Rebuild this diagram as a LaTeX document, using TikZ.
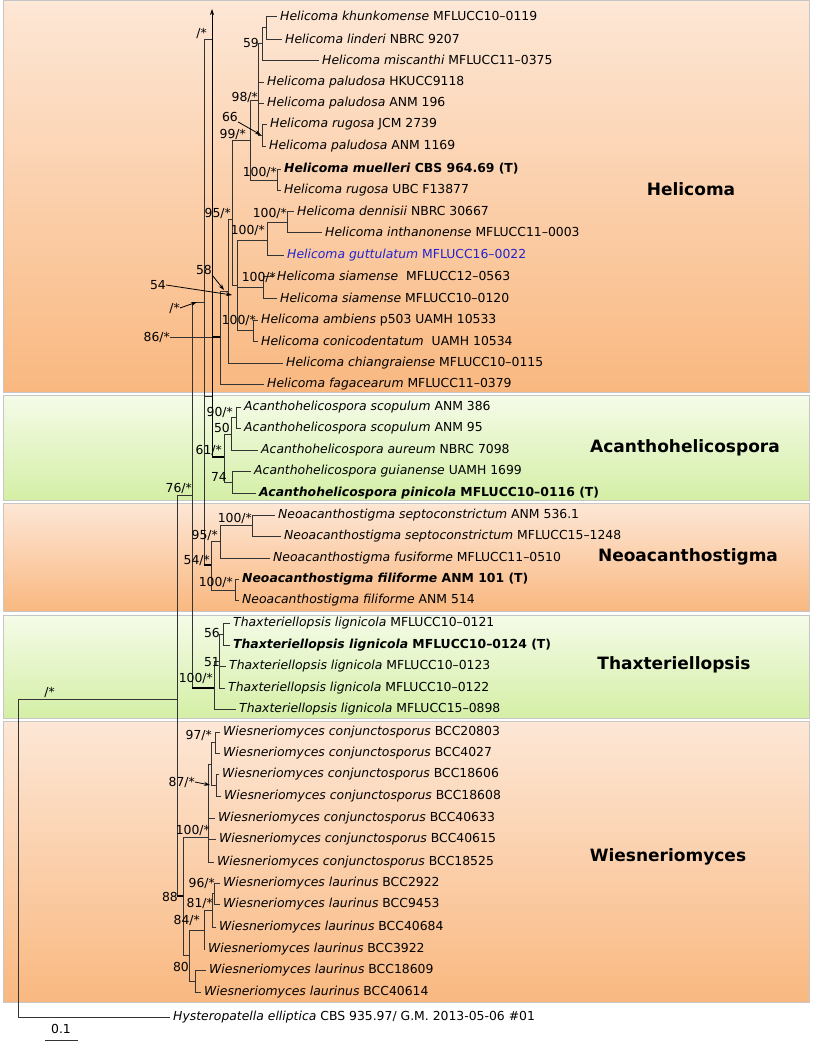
\documentclass[tikz,border=0pt]{standalone}
\usepackage{fontspec}
\setmainfont{DejaVu Sans}
\usetikzlibrary{arrows.meta}
\definecolor{orA}{RGB}{253,231,214}
\definecolor{orB}{RGB}{249,184,128}
\definecolor{grA}{RGB}{245,251,232}
\definecolor{grB}{RGB}{212,239,166}
\definecolor{gut}{RGB}{35,35,205}
\tikzset{
 tx/.style={anchor=west, inner xsep=3pt, inner ysep=0pt, font=\fontsize{12.4}{14}\selectfont},
 sv/.style={anchor=east, inner sep=0pt, font=\fontsize{12.4}{14}\selectfont},
 br/.style={line width=0.7pt, draw=black!80},
 thk/.style={line width=2.4pt, draw=black},
 ptr/.style={line width=0.8pt, draw=black, -{Stealth[length=6pt,width=4pt]}},
 clade/.style={font=\fontsize{17}{19}\bfseries\selectfont},
 boxo/.style={draw=gray!45, line width=0.7pt, top color=orA, bottom color=orB},
 boxg/.style={draw=gray!45, line width=0.7pt, top color=grA, bottom color=grB}
}
\newcommand\hbr[2]{\draw[br] (#1 |- #2) -- (#2);}
\newcommand\vbr[3]{\draw[br] (#1 |- #2) -- (#1 |- #3);}
\begin{document}
\begin{tikzpicture}[x=1pt,y=-1pt]
\useasboundingbox (0,0) rectangle (813,1044);
% clade boxes
\path[boxo] (3,0) rectangle (809,392);
\path[boxg] (3,395) rectangle (809,500);
\path[boxo] (3,503) rectangle (809,611);
\path[boxg] (3,615) rectangle (809,718);
\path[boxo] (3,721) rectangle (809,1002);
\node[clade] (cH) at (691,189) {Helicoma};
\node[clade] (cA) at (685,448) {Acanthohelicospora};
\node[clade] (cN) at (688,557) {Neoacanthostigma};
\node[clade] (cT) at (674,665) {Thaxteriellopsis};
\node[clade] (cW) at (668,857) {Wiesneriomyces};
% taxa
\node[tx] (t1) at (277,16) {\textit{Helicoma khunkomense} MFLUCC10–0119};
\node[tx] (t2) at (282,39) {\textit{Helicoma linderi} NBRC 9207};
\node[tx] (t3) at (319,60) {\textit{Helicoma miscanthi} MFLUCC11–0375};
\node[tx] (t4) at (264,82) {\textit{Helicoma paludosa} HKUCC9118};
\node[tx] (t5) at (264,103) {\textit{Helicoma paludosa} ANM 196};
\node[tx] (t6) at (267,124) {\textit{Helicoma rugosa} JCM 2739};
\node[tx] (t7) at (266,146) {\textit{Helicoma paludosa} ANM 1169};
\node[tx] (t8) at (281,169) {\textbf{\textit{Helicoma muelleri} CBS 964.69 (T)}};
\node[tx] (t9) at (281,190) {\textit{Helicoma rugosa} UBC F13877};
\node[tx] (t10) at (294,211) {\textit{Helicoma dennisii} NBRC 30667};
\node[tx] (t11) at (322,232) {\textit{Helicoma inthanonense} MFLUCC11–0003};
\node[tx,text=gut] (t12) at (284,255) {\textit{Helicoma guttulatum} MFLUCC16–0022};
\node[tx] (t13) at (274,276) {\textit{Helicoma siamense}\ \ MFLUCC12–0563};
\node[tx] (t14) at (277,298) {\textit{Helicoma siamense} MFLUCC10–0120};
\node[tx] (t15) at (258,320) {\textit{Helicoma ambiens} p503 UAMH 10533};
\node[tx] (t16) at (258,341) {\textit{Helicoma conicodentatum}\ \ UAMH 10534};
\node[tx] (t17) at (283,363) {\textit{Helicoma chiangraiense} MFLUCC10–0115};
\node[tx] (t18) at (264,384) {\textit{Helicoma fagacearum} MFLUCC11–0379};
\node[tx] (t19) at (241,407) {\textit{Acanthohelicospora scopulum} ANM 386};
\node[tx] (t20) at (241,428) {\textit{Acanthohelicospora scopulum} ANM 95};
\node[tx] (t21) at (258,450) {\textit{Acanthohelicospora aureum} NBRC 7098};
\node[tx] (t22) at (251,471) {\textit{Acanthohelicospora guianense} UAMH 1699};
\node[tx] (t23) at (256,493) {\textbf{\textit{Acanthohelicospora pinicola} MFLUCC10–0116 (T)}};
\node[tx] (t24) at (275,515) {\textit{Neoacanthostigma septoconstrictum} ANM 536.1};
\node[tx] (t25) at (281,536) {\textit{Neoacanthostigma septoconstrictum} MFLUCC15–1248};
\node[tx] (t26) at (270,558) {\textit{Neoacanthostigma fusiforme} MFLUCC11–0510};
\node[tx] (t27) at (239,579) {\textbf{\textit{Neoacanthostigma filiforme} ANM 101 (T)}};
\node[tx] (t28) at (239,600) {\textit{Neoacanthostigma filiforme} ANM 514};
\node[tx] (t29) at (230,623) {\textit{Thaxteriellopsis lignicola} MFLUCC10–0121};
\node[tx] (t30) at (230,645) {\textbf{\textit{Thaxteriellopsis lignicola} MFLUCC10–0124 (T)}};
\node[tx] (t31) at (226,666) {\textit{Thaxteriellopsis lignicola} MFLUCC10–0123};
\node[tx] (t32) at (225,688) {\textit{Thaxteriellopsis lignicola} MFLUCC10–0122};
\node[tx] (t33) at (236,709) {\textit{Thaxteriellopsis lignicola} MFLUCC15–0898};
\node[tx] (t34) at (220,732) {\textit{Wiesneriomyces conjunctosporus} BCC20803};
\node[tx] (t35) at (220,753) {\textit{Wiesneriomyces conjunctosporus} BCC4027};
\node[tx] (t36) at (219,774) {\textit{Wiesneriomyces conjunctosporus} BCC18606};
\node[tx] (t37) at (221,796) {\textit{Wiesneriomyces conjunctosporus} BCC18608};
\node[tx] (t38) at (215,818) {\textit{Wiesneriomyces conjunctosporus} BCC40633};
\node[tx] (t39) at (216,839) {\textit{Wiesneriomyces conjunctosporus} BCC40615};
\node[tx] (t40) at (214,862) {\textit{Wiesneriomyces conjunctosporus} BCC18525};
\node[tx] (t41) at (220,883) {\textit{Wiesneriomyces laurinus} BCC2922};
\node[tx] (t42) at (220,904) {\textit{Wiesneriomyces laurinus} BCC9453};
\node[tx] (t43) at (216,927) {\textit{Wiesneriomyces laurinus} BCC40684};
\node[tx] (t44) at (205,949) {\textit{Wiesneriomyces laurinus} BCC3922};
\node[tx] (t45) at (206,970) {\textit{Wiesneriomyces laurinus} BCC18609};
\node[tx] (t46) at (201,992) {\textit{Wiesneriomyces laurinus} BCC40614};
\node[tx] (t47) at (170,1017) {\textit{Hysteropatella elliptica} CBS 935.97/ G.M. 2013-05-06 \#01};
% internal nodes
\coordinate (n59a) at (266,27);
\coordinate (n59) at (262,43);
\coordinate (n66) at (262,135);
\coordinate (n98) at (258,100);
\coordinate (n100a) at (277,180);
\coordinate (n99) at (250,140);
\coordinate (n100c) at (287,222);
\coordinate (n100b) at (267,240);
\coordinate (n100d) at (263,287);
\coordinate (n100e) at (253,330);
\coordinate (n237) at (237,285);
\coordinate (n95) at (232,219);
\coordinate (n228) at (228,291);
\coordinate (n220) at (220,337);
\coordinate (nD) at (212,396);
\coordinate (n90) at (236,417);
\coordinate (n50) at (231,434);
\coordinate (n74) at (232,482);
\coordinate (n61) at (224,457);
\coordinate (n100f) at (252,525);
\coordinate (n95b) at (220,541);
\coordinate (n100g) at (235,590);
\coordinate (n54) at (211,565);
\coordinate (nC) at (204,302);
\coordinate (nCt) at (212,39);
\coordinate (nB) at (192,495);
\coordinate (n56) at (223,634);
\coordinate (n51) at (219,661);
\coordinate (nT) at (214,688);
\coordinate (nA) at (177,699);
\coordinate (n97) at (215,742);
\coordinate (nC1) at (216,785);
\coordinate (n87) at (211,764);
\coordinate (n100h) at (208,837);
\coordinate (n96) at (214,893);
\coordinate (n81) at (212,910);
\coordinate (n84) at (204,930);
\coordinate (n80) at (195,981);
\coordinate (nL) at (189,955);
\coordinate (nW) at (183,896);
\coordinate (nR) at (18,699);
\coordinate (arrtop) at (212,9);
% Helicoma branches
\vbr{n59a}{t1}{t2} \hbr{n59a}{t1} \hbr{n59a}{t2}
\vbr{n59}{n59a}{t3} \hbr{n59}{n59a} \hbr{n59}{t3}
\vbr{n66}{t6}{t7} \hbr{n66}{t6} \hbr{n66}{t7}
\vbr{n98}{n59}{n66} \hbr{n98}{n59} \hbr{n98}{t4} \hbr{n98}{t5} \hbr{n98}{n66}
\vbr{n100a}{t8}{t9} \hbr{n100a}{t8} \hbr{n100a}{t9}
\vbr{n99}{n98}{n100a} \hbr{n99}{n98} \hbr{n99}{n100a}
\vbr{n100c}{t10}{t11} \hbr{n100c}{t10} \hbr{n100c}{t11}
\vbr{n100b}{n100c}{t12} \hbr{n100b}{n100c} \hbr{n100b}{t12}
\vbr{n100d}{t13}{t14} \hbr{n100d}{t13} \hbr{n100d}{t14}
\vbr{n100e}{t15}{t16} \hbr{n100e}{t15} \hbr{n100e}{t16}
\draw[br] (n237 |- n100b) -- (n237 |- n100e);
\hbr{n237}{n100b} \hbr{n237}{n100d} \hbr{n237}{n100e}
\vbr{n95}{n99}{n237} \hbr{n95}{n99} \hbr{n95}{n237}
\vbr{n228}{n95}{t17} \hbr{n228}{n95} \hbr{n228}{t17}
\vbr{n220}{n228}{t18} \hbr{n220}{n228} \hbr{n220}{t18}
% Acanthohelicospora
\vbr{n90}{t19}{t20} \hbr{n90}{t19} \hbr{n90}{t20}
\vbr{n50}{n90}{t21} \hbr{n50}{n90} \hbr{n50}{t21}
\vbr{n74}{t22}{t23} \hbr{n74}{t22} \hbr{n74}{t23}
\vbr{n61}{n50}{n74} \hbr{n61}{n50} \hbr{n61}{n74}
% backbone D
\draw[ptr] (nD |- n61) -- (arrtop);
\draw[thk] (nD |- n220) -- (n220);
\draw[thk] (nD |- n61) -- (n61);
% Neoacanthostigma
\vbr{n100f}{t24}{t25} \hbr{n100f}{t24} \hbr{n100f}{t25}
\vbr{n95b}{n100f}{t26} \hbr{n95b}{n100f} \hbr{n95b}{t26}
\vbr{n100g}{t27}{t28} \hbr{n100g}{t27} \hbr{n100g}{t28}
\vbr{n54}{n95b}{n100g} \hbr{n54}{n95b} \hbr{n54}{n100g}
% C
\draw[br] (nC |- nCt) -- (nC |- n54);
\draw[br] (nC |- nCt) -- (nCt);
\draw[br] (nC |- nD) -- (nD);
\draw[thk] (nC |- n54) -- (n54);
% Thaxteriellopsis
\vbr{n56}{t29}{t30} \hbr{n56}{t29} \hbr{n56}{t30}
\vbr{n51}{n56}{t32} \hbr{n51}{n56} \hbr{n51}{t31} \hbr{n51}{t32}
\draw[br] (nT |- n51) -- (nT |- t33); \hbr{nT}{n51} \hbr{nT}{t33}
% B
\draw[br] (nB |- nC) -- (nB |- nT);
\hbr{nB}{nC}
\draw[thk] (nB |- nT) -- (nT);
% Wiesneriomyces
\vbr{n97}{t34}{t35} \hbr{n97}{t34} \hbr{n97}{t35}
\vbr{nC1}{t36}{t37} \hbr{nC1}{t36} \hbr{nC1}{t37}
\vbr{n87}{n97}{nC1} \hbr{n87}{n97} \hbr{n87}{nC1}
\vbr{n100h}{n87}{t40} \hbr{n100h}{n87} \hbr{n100h}{t38} \hbr{n100h}{t39} \hbr{n100h}{t40}
\vbr{n96}{t41}{t42} \hbr{n96}{t41} \hbr{n96}{t42}
\vbr{n81}{n96}{t43} \hbr{n81}{n96} \hbr{n81}{t43}
\vbr{n84}{n81}{t44} \hbr{n84}{n81} \hbr{n84}{t44}
\vbr{n80}{t45}{t46} \hbr{n80}{t45} \hbr{n80}{t46}
\vbr{nL}{n84}{n80} \hbr{nL}{n84} \hbr{nL}{n80}
\vbr{nW}{n100h}{nL} \hbr{nW}{n100h} \hbr{nW}{nL}
% A and root
\draw[br] (nA |- nB) -- (nA |- nW);
\hbr{nA}{nB}
\draw[thk] (nA |- nW) -- (nW);
\draw[br] (nR) -- (nR |- t47);
\hbr{nR}{nA} \hbr{nR}{t47}
% support values
\node[sv] (s1) at (207,33) {/*};
\node[sv] (s2) at (259,43) {59};
\node[sv] (s3) at (258,97) {98/*};
\node[sv] (s4) at (238,117) {66};
\node[sv] (s5) at (246,134) {99/*};
\node[sv] (s6) at (277,172) {100/*};
\node[sv] (s7) at (231,213) {95/*};
\node[sv] (s8) at (287,213) {100/*};
\node[sv] (s9) at (265,230) {100/*};
\node[sv] (s10) at (276,277) {100/*};
\node[sv] (s11) at (212,270) {58};
\node[sv] (s12) at (166,285) {54};
\node[sv] (s13) at (180,308) {/*};
\node[sv] (s14) at (256,320) {100/*};
\node[sv] (s15) at (170,337) {86/*};
\node[sv] (s16) at (233,412) {90/*};
\node[sv] (s17) at (230,428) {50};
\node[sv] (s18) at (222,450) {61/*};
\node[sv] (s19) at (227,477) {74};
\node[sv] (s20) at (192,488) {76/*};
\node[sv] (s21) at (252,518) {100/*};
\node[sv] (s22) at (218,535) {95/*};
\node[sv] (s23) at (210,560) {54/*};
\node[sv] (s24) at (233,582) {100/*};
\node[sv] (s25) at (220,633) {56};
\node[sv] (s26) at (220,662) {51};
\node[sv] (s27) at (213,678) {100/*};
\node[sv] (s28) at (212,735) {97/*};
\node[sv] (s29) at (195,782) {87/*};
\node[sv] (s30) at (210,830) {100/*};
\node[sv] (s31) at (215,883) {96/*};
\node[sv] (s32) at (213,903) {81/*};
\node[sv] (s33) at (200,920) {84/*};
\node[sv] (s34) at (178,897) {88};
\node[sv] (s35) at (189,967) {80};
\node[sv] (s36) at (55,692) {/*};
% pointer arrows
\coordinate (p66) at (261,135);
\coordinate (p58) at (224,290);
\coordinate (p54) at (232,295);
\coordinate (p13) at (197,302);
\coordinate (p87) at (210,785);
\draw[ptr] (s4.south east) -- (p66);
\draw[ptr] (s11.south east) -- (p58);
\draw[ptr] (s12.east) -- (p54);
\draw[ptr] (s13.east) -- (p13);
\draw[ptr] (s29.east) -- (p87);
\draw[br] (s15.east) -- (nD |- n220);
% scale bar
\node[font=\fontsize{12.4}{14}\selectfont, inner sep=0pt] (sc) at (61,1029) {0.1};
\coordinate (sbL) at (45,1040);
\coordinate (sbR) at (78,1040);
\draw[br] (sbL) -- (sbR);
\end{tikzpicture}
\end{document}
